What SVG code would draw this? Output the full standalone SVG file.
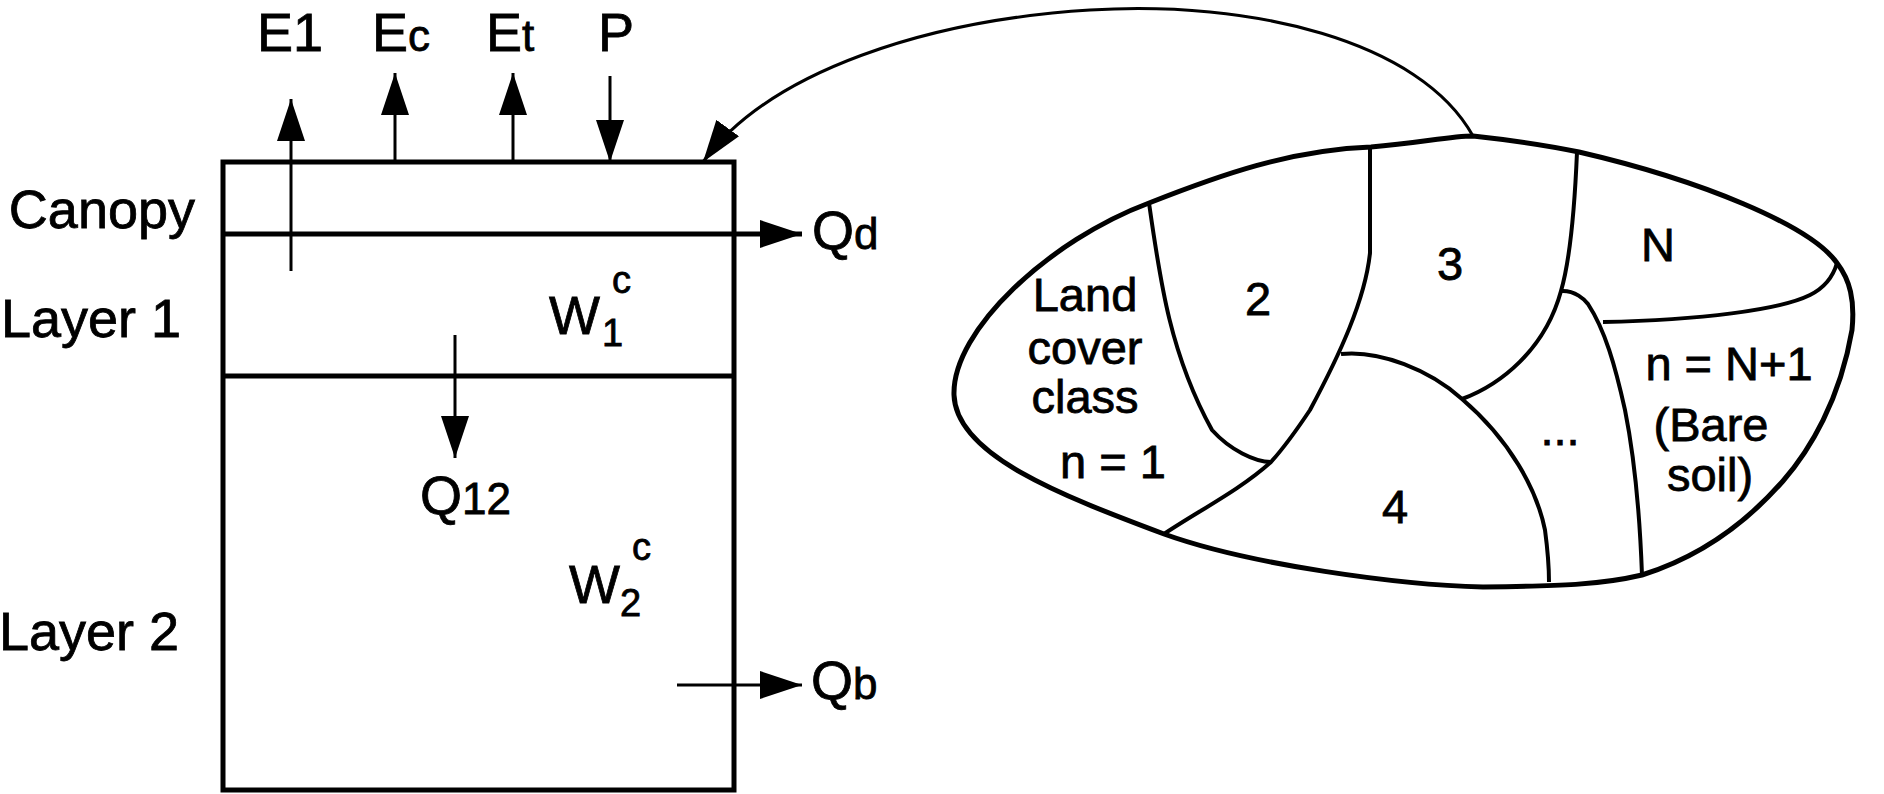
<svg xmlns="http://www.w3.org/2000/svg" width="1884" height="794" viewBox="0 0 1884 794">
<style>
text{font-family:"Liberation Sans",Arial,sans-serif;fill:#000;stroke:#000;stroke-width:0.8}
.l{font-size:54px}
.r{font-size:47px;text-anchor:middle}
.sub{font-size:38px}
.a{stroke:#000;stroke-width:3;fill:none}
.b{stroke:#000;stroke-width:5;fill:none}
.i{stroke:#000;stroke-width:4;fill:none}
</style>
<defs>
<marker id="ah" markerUnits="userSpaceOnUse" markerWidth="44" markerHeight="28" refX="42" refY="14" orient="auto"><path d="M0,0 L42,14 L0,28 Z" fill="#000"/></marker>
</defs>
<rect width="1884" height="794" fill="#fff"/>
<g id="column">
<rect x="223" y="162" width="511" height="628" class="b"/>
<line x1="223" y1="376" x2="734" y2="376" class="b"/>
</g>
<g id="labels">
<text class="l" x="195" y="228" text-anchor="end">Canopy</text>
<text class="l" x="181" y="337" text-anchor="end">Layer 1</text>
<text class="l" x="179" y="650" text-anchor="end">Layer 2</text>
<text class="l" x="257" y="51">E1</text>
<text class="l" x="372" y="51">E<tspan font-size="44">c</tspan></text>
<text class="l" x="486" y="51">E<tspan font-size="44">t</tspan></text>
<text class="l" x="598" y="51">P</text>
<text class="l" x="812" y="249">Q<tspan font-size="44">d</tspan></text>
<text class="l" x="811" y="699">Q<tspan font-size="44">b</tspan></text>
<text class="l" x="420" y="514">Q<tspan font-size="44">12</tspan></text>
<text class="l" x="549" y="334">W</text><text class="sub" x="602" y="346">1</text><text class="sub" x="612" y="293">c</text>
<text class="l" x="569" y="603">W</text><text class="sub" x="620" y="616">2</text><text class="sub" x="632" y="560">c</text>
</g>
<g id="connectors">
<line x1="223" y1="234" x2="802" y2="234" class="b" marker-end="url(#ah)"/>
<line x1="291" y1="271" x2="291" y2="99" class="a" marker-end="url(#ah)"/>
<line x1="395" y1="162" x2="395" y2="73" class="a" marker-end="url(#ah)"/>
<line x1="513" y1="162" x2="513" y2="73" class="a" marker-end="url(#ah)"/>
<line x1="610" y1="76" x2="610" y2="162" class="a" marker-end="url(#ah)"/>
<line x1="455" y1="335" x2="455" y2="458" class="a" marker-end="url(#ah)"/>
<line x1="677" y1="685" x2="802" y2="685" class="a" marker-end="url(#ah)"/>
<path d="M1473,136 C1420,40 1250,0 1090,10 C930,20 770,70 703,162" class="a" marker-end="url(#ah)"/>
</g>
<g id="landcover">
<path d="M954,395 C952,330 1050,240 1149,203 C1220,175 1290,150 1371,147 C1420,143 1450,136 1473,136 C1510,140 1545,145 1579,152 C1700,180 1810,225 1837,263 C1850,280 1855,300 1852,330 C1840,400 1810,450 1783,481 C1740,530 1690,560 1642,575 C1600,585 1560,586 1483,587 C1400,585 1250,565 1164,534 C1060,495 956,455 954,395 Z" class="b"/>
<path d="M1149,203 C1160,280 1170,354 1212,430 C1230,450 1255,462 1271,462" class="i"/>
<path d="M1370,147 L1370,253 C1365,300 1340,354 1310,410 C1290,440 1280,452 1271,462 C1240,490 1200,510 1164,534" class="i"/>
<path d="M1577,152 C1575,200 1570,260 1561,291 C1545,350 1500,385 1462,399" class="i"/>
<path d="M1341,354 C1380,350 1430,370 1462,399 C1510,440 1537,490 1545,530 C1549,560 1549,575 1549,582" class="i"/>
<path d="M1561,291 C1575,290 1585,300 1588,304 C1605,330 1615,365 1625,410 C1635,460 1640,520 1642,575" class="i"/>
<path d="M1603,322 C1700,320 1780,310 1810,295 C1830,285 1835,270 1837,263" class="i"/>
</g>
<g id="cover-labels">
<text class="r" x="1085" y="311">Land</text>
<text class="r" x="1085" y="364">cover</text>
<text class="r" x="1085" y="413">class</text>
<text class="r" x="1113" y="478">n = 1</text>
<text class="r" x="1258" y="315">2</text>
<text class="r" x="1450" y="280">3</text>
<text class="r" x="1658" y="261">N</text>
<text class="r" x="1395" y="523">4</text>
<text class="r" x="1560" y="445">...</text>
<text class="r" x="1729" y="380">n = N+1</text>
<text class="r" x="1711" y="441">(Bare</text>
<text class="r" x="1710" y="491">soil)</text>
</g>
</svg>
